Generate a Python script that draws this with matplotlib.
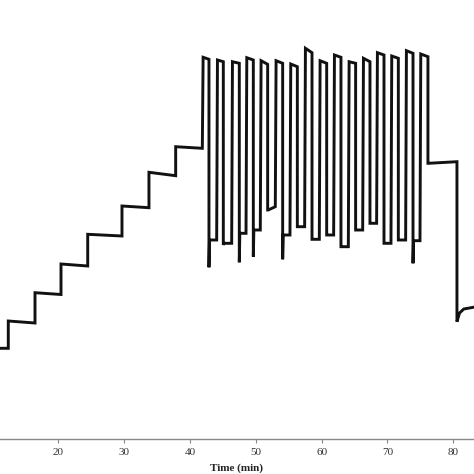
import matplotlib
matplotlib.use("Agg")
import matplotlib.pyplot as plt

# ---- data (time in min, signal in arbitrary units) ----
start_time = 11.0
start_level = 90.7

# staircase: time of each rise, level right after rise, level at end of step
step_times = [12.37, 16.43, 20.38, 24.44, 29.65, 33.75, 37.81]
step_level_start = [118.0, 146.3, 175.0, 204.7, 233.0, 266.7, 292.3]
step_level_end = [116.0, 144.5, 173.0, 203.0, 231.3, 263.3, 290.7]

# pulse train
pulse_up = [41.86, 44.04, 46.32, 48.50, 50.67, 52.95, 55.18, 57.41,
            59.64, 61.82, 64.05, 66.23, 68.35, 70.53, 72.76, 74.94]
pulse_down = [42.87, 45.05, 47.48, 49.61, 51.79, 54.07, 56.30, 58.53,
              60.76, 62.93, 65.16, 67.34, 69.47, 71.65, 73.88, 76.15]
top_start = [381.7, 379.0, 377.3, 381.3, 378.3, 378.3, 375.0, 390.7,
             378.3, 384.0, 377.3, 380.7, 386.3, 383.0, 388.3, 385.0]
top_end = [379.7, 377.3, 375.7, 379.0, 374.7, 375.7, 372.3, 386.3,
           375.7, 381.7, 375.7, 377.3, 384.0, 380.7, 385.7, 382.3]
spike = [171.7, 194.0, 176.7, 182.3, 229.0, 179.7, 212.3, 199.7,
         204.0, 192.3, 209.0, 215.7, 195.7, 199.0, 175.7, 275.7]
low_start = [199.0, 195.7, 205.7, 209.0, 229.0, 204.0, 212.3, 199.7,
             204.0, 192.3, 209.0, 215.7, 195.7, 199.0, 198.3, 275.7]
low_end = [199.0, 195.7, 205.7, 209.0, 232.3, 204.0, 212.3, 199.7,
           204.0, 192.3, 209.0, 215.7, 195.7, 199.0, 198.3, 277.3]

# recovery tail
tail_t = [80.56, 80.56, 80.95, 81.6, 83.3]
tail_v = [277.3, 117.3, 126.0, 130.0, 132.0]

xticks = [20, 30, 40, 50, 60, 70, 80]

# ---- build trace ----
t = [start_time]
v = [start_level]
step_ends = step_times[1:] + [pulse_up[0]]
for ts, te, a, b in zip(step_times, step_ends, step_level_start, step_level_end):
    t += [ts, ts, te]
    v += [v[-1], a, b]

for i in range(len(pulse_up)):
    tu, td = pulse_up[i], pulse_down[i]
    t += [tu, tu + 0.12, td, td]
    v += [v[-1], top_start[i], top_end[i], spike[i]]
    nxt = pulse_up[i + 1] if i + 1 < len(pulse_up) else tail_t[0]
    t += [td + 0.08, nxt]
    v += [low_start[i], low_end[i]]

t += tail_t
v += tail_v

# ---- figure ----
fig = plt.figure(figsize=(4.74, 4.74), dpi=100)
ax = fig.add_axes([0.0, 35 / 474, 1.0, 439 / 474])
ax.plot(t, v, color="#111111", lw=2.1, solid_joinstyle="miter")
ax.set_xlim(11.11, 83.15)
ax.set_ylim(0, 439)

for s in ["left", "right", "top"]:
    ax.spines[s].set_visible(False)
ax.spines["bottom"].set_color("#888888")
ax.spines["bottom"].set_linewidth(1.0)
ax.set_yticks([])
ax.set_xticks(xticks)
ax.tick_params(axis="x", direction="out", length=3, width=0.8,
               color="#888888", pad=3.5, labelsize=8, labelcolor="#333333")
for lab in ax.get_xticklabels():
    lab.set_fontfamily("Liberation Serif")
ax.set_xlabel("Time (min)", fontfamily="Liberation Serif", fontweight="bold",
              fontsize=8, color="#222222", labelpad=4.5)

fig.savefig("out.png", dpi=100)
